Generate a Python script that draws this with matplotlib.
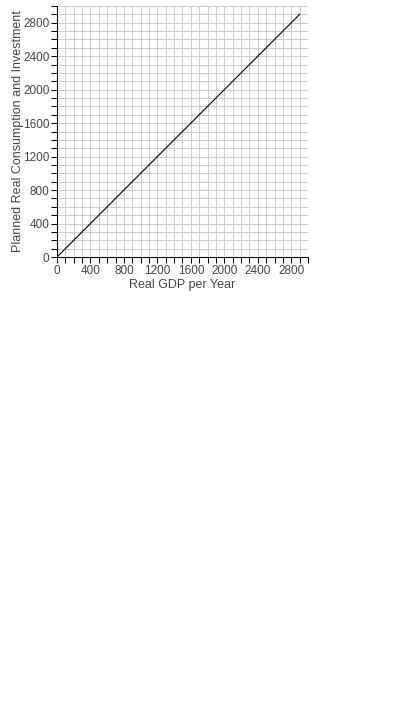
import matplotlib
matplotlib.use("Agg")
import matplotlib.pyplot as plt
import numpy as np

plt.rcParams['font.family'] = ['Liberation Sans', 'DejaVu Sans']

# the one line on the chart
gdp = [0, 2900]
planned = [0, 2900]

x_max = 3000
y_max = 3000
major_ticks = [0, 400, 800, 1200, 1600, 2000, 2400, 2800]

fig = plt.figure(figsize=(4, 7.1), dpi=100)
ax = fig.add_axes([57/400, 1 - 257/710, 251/400, 251/710])

ax.plot(gdp, planned, color='black', linewidth=0.8)

ax.set_xlim(0, x_max)
ax.set_ylim(0, y_max)
ax.set_xticks(major_ticks)
ax.set_yticks(major_ticks)
ax.set_xticks(np.arange(0, x_max + 1, 100), minor=True)
ax.set_yticks(np.arange(0, y_max + 1, 100), minor=True)
ax.grid(True, which='both', color='#cccccc', linewidth=0.75)
ax.set_axisbelow(True)

ax.spines['top'].set_visible(False)
ax.spines['right'].set_visible(False)
ax.spines['left'].set_linewidth(0.75)
ax.spines['bottom'].set_linewidth(0.75)
ax.tick_params(which='both', length=4, width=0.75, color='black', direction='out')
ax.tick_params(labelsize=8.5, labelcolor='#444444', pad=1.5)

ax.set_xlabel('Real GDP per Year', fontsize=9, color='#444444', labelpad=2)
ax.set_ylabel('Planned Real Consumption and Investment', fontsize=9, color='#444444', labelpad=-0.5)

fig.savefig('out.png', dpi=100)
